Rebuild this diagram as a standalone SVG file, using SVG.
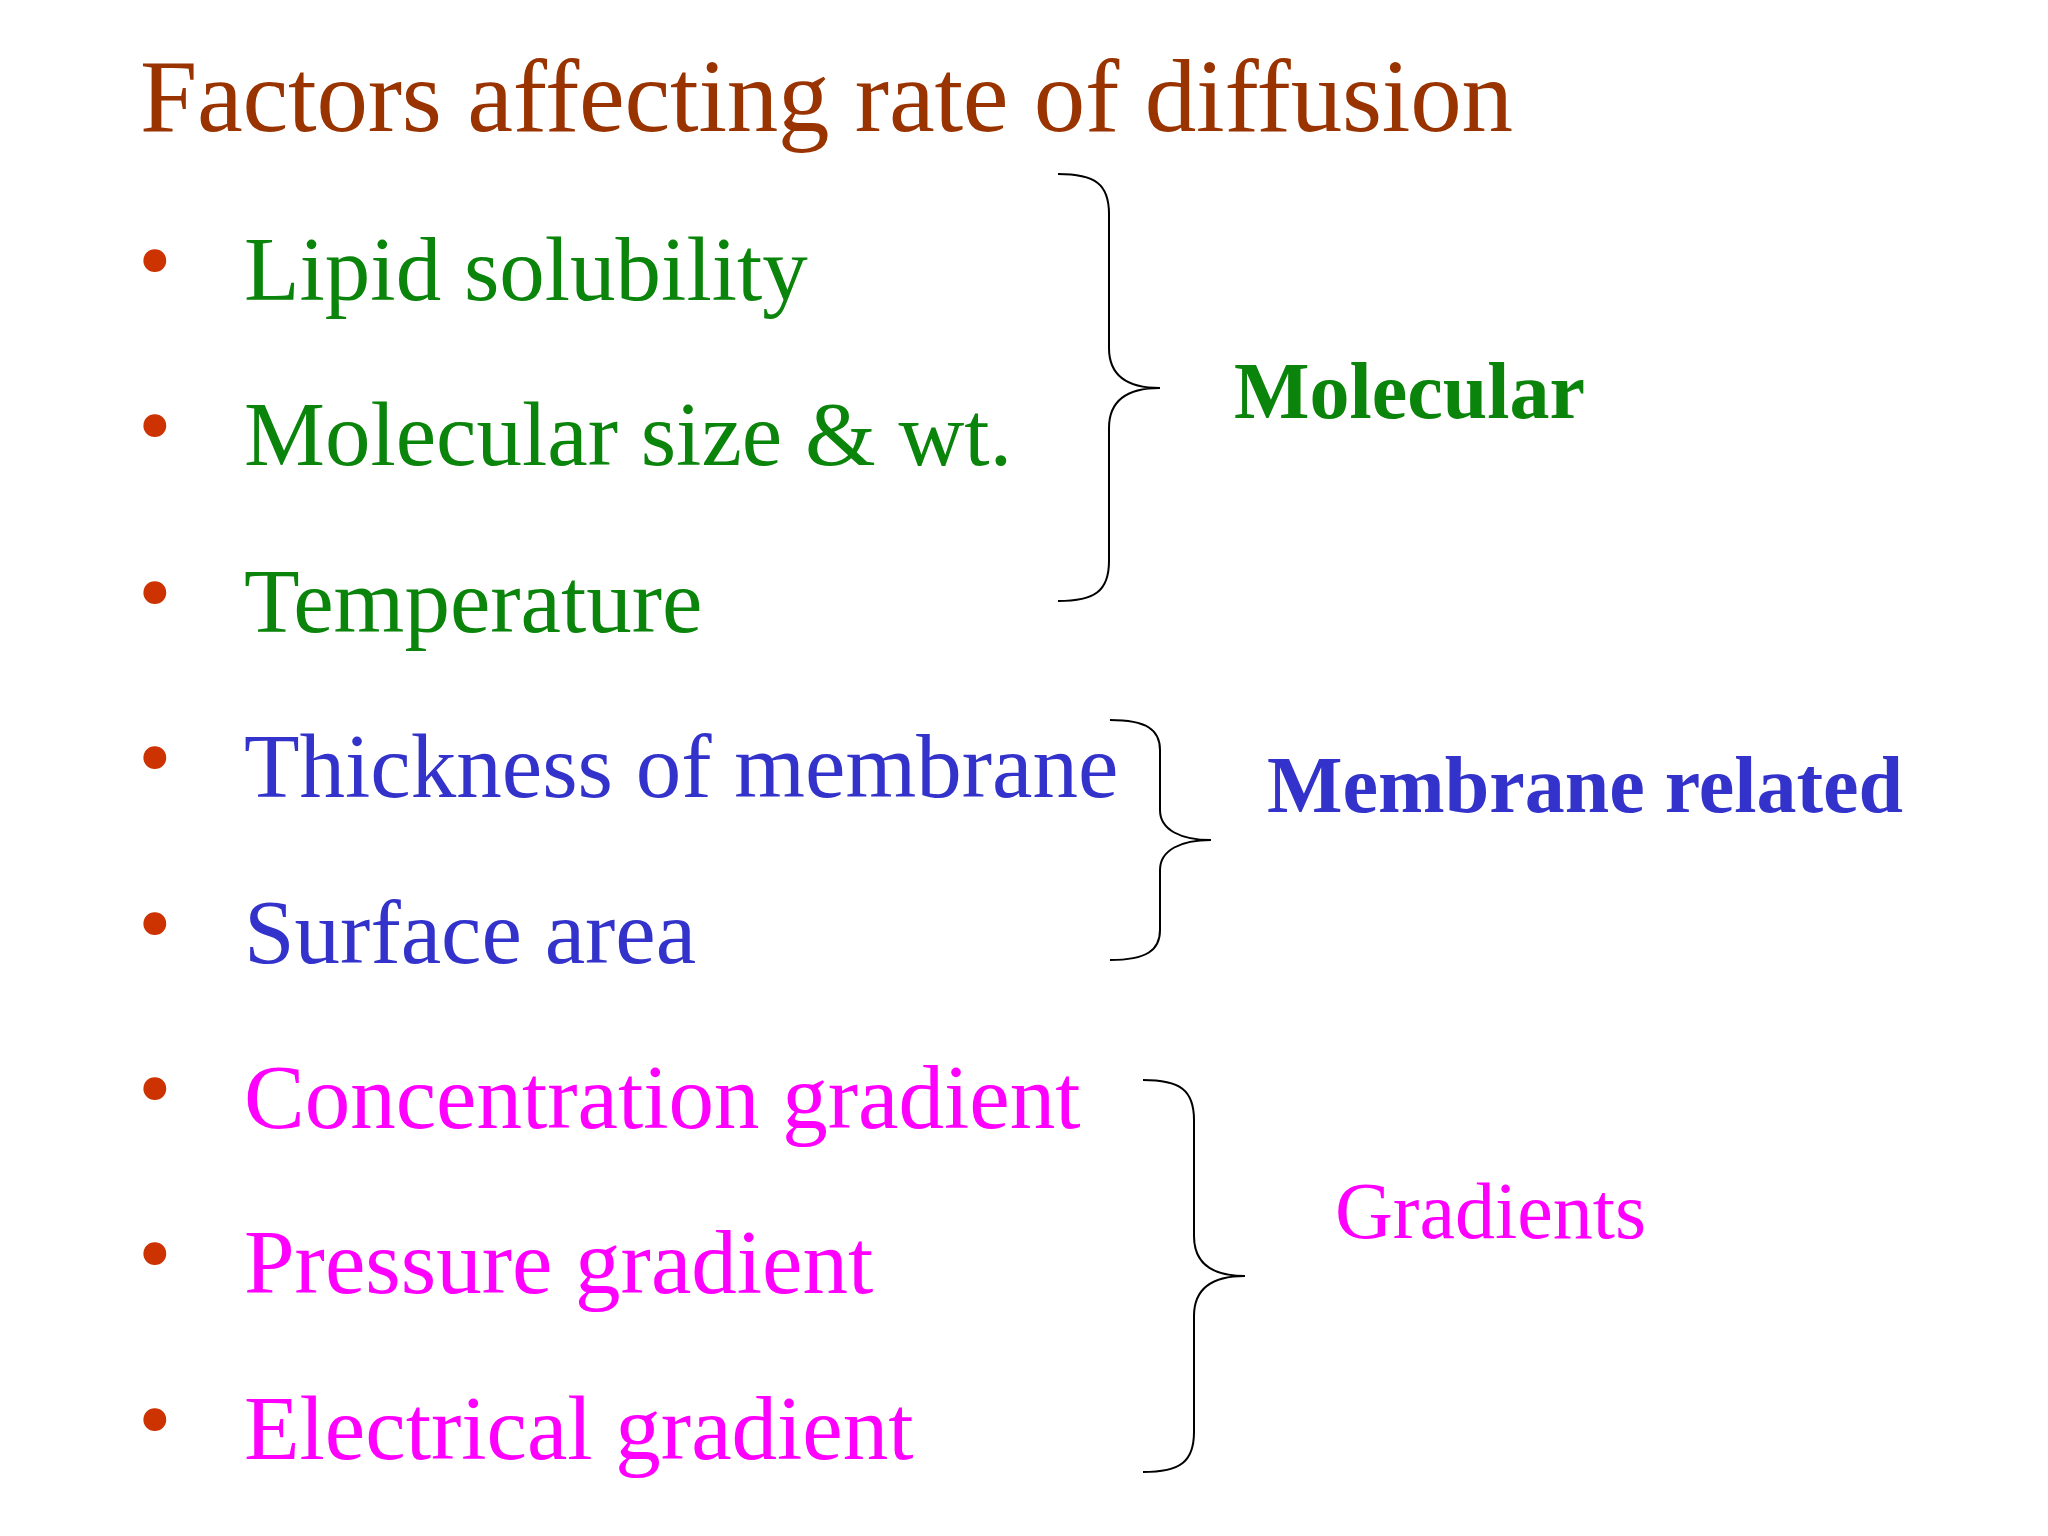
<svg xmlns="http://www.w3.org/2000/svg" width="2048" height="1536" viewBox="0 0 2048 1536">
<style>
text{font-family:"Liberation Serif","Times New Roman",serif}
.t{font-size:91px}
.g{fill:#0a840a}.b{fill:#3333cc}.m{fill:#ff00ff}
.bl{fill:#cc3300;font-size:96px}
.br{fill:none;stroke:#000;stroke-width:2}
.lb{font-size:80px;font-weight:bold}
</style>
<rect width="2048" height="1536" fill="#fff"/>
<text x="140" y="131" font-size="103" fill="#993300" textLength="1373">Factors affecting rate of diffusion</text>
<g id="items">
<g id="i1"><text class="bl" x="138" y="292">•</text><text class="t g" x="244" y="300">Lipid solubility</text></g>
<g id="i2"><text class="bl" x="138" y="457">•</text><text class="t g" x="244" y="465">Molecular size &amp; wt.</text></g>
<g id="i3"><text class="bl" x="138" y="624">•</text><text class="t g" x="244" y="632">Temperature</text></g>
<g id="i4"><text class="bl" x="138" y="789">•</text><text class="t b" x="244" y="797">Thickness of membrane</text></g>
<g id="i5"><text class="bl" x="138" y="955">•</text><text class="t b" x="244" y="963">Surface area</text></g>
<g id="i6"><text class="bl" x="138" y="1120">•</text><text class="t m" x="244" y="1128">Concentration gradient</text></g>
<g id="i7"><text class="bl" x="138" y="1285">•</text><text class="t m" x="244" y="1293">Pressure gradient</text></g>
<g id="i8"><text class="bl" x="138" y="1451">•</text><text class="t m" x="244" y="1459">Electrical gradient</text></g>
</g>
<g id="braces">
<path class="br" d="M1058,174 C1095,174 1109,184 1109,214 L1109,348 C1109,378 1130,388 1160,388 C1130,388 1109,398 1109,428 L1109,561 C1109,591 1095,601 1058,601"/>
<path class="br" d="M1110,720 C1147,720 1160,730 1160,750 L1160,810 C1160,830 1181,840 1211,840 C1181,840 1160,850 1160,870 L1160,930 C1160,950 1147,960 1110,960"/>
<path class="br" d="M1143,1080 C1180,1080 1194,1090 1194,1120 L1194,1236 C1194,1266 1215,1276 1245,1276 C1215,1276 1194,1286 1194,1316 L1194,1432 C1194,1462 1180,1472 1143,1472"/>
</g>
<g id="labels">
<text class="lb g" x="1234" y="418">Molecular</text>
<text class="lb b" x="1267" y="812">Membrane related</text>
<text class="m" x="1335" y="1238" font-size="80">Gradients</text>
</g>
</svg>
